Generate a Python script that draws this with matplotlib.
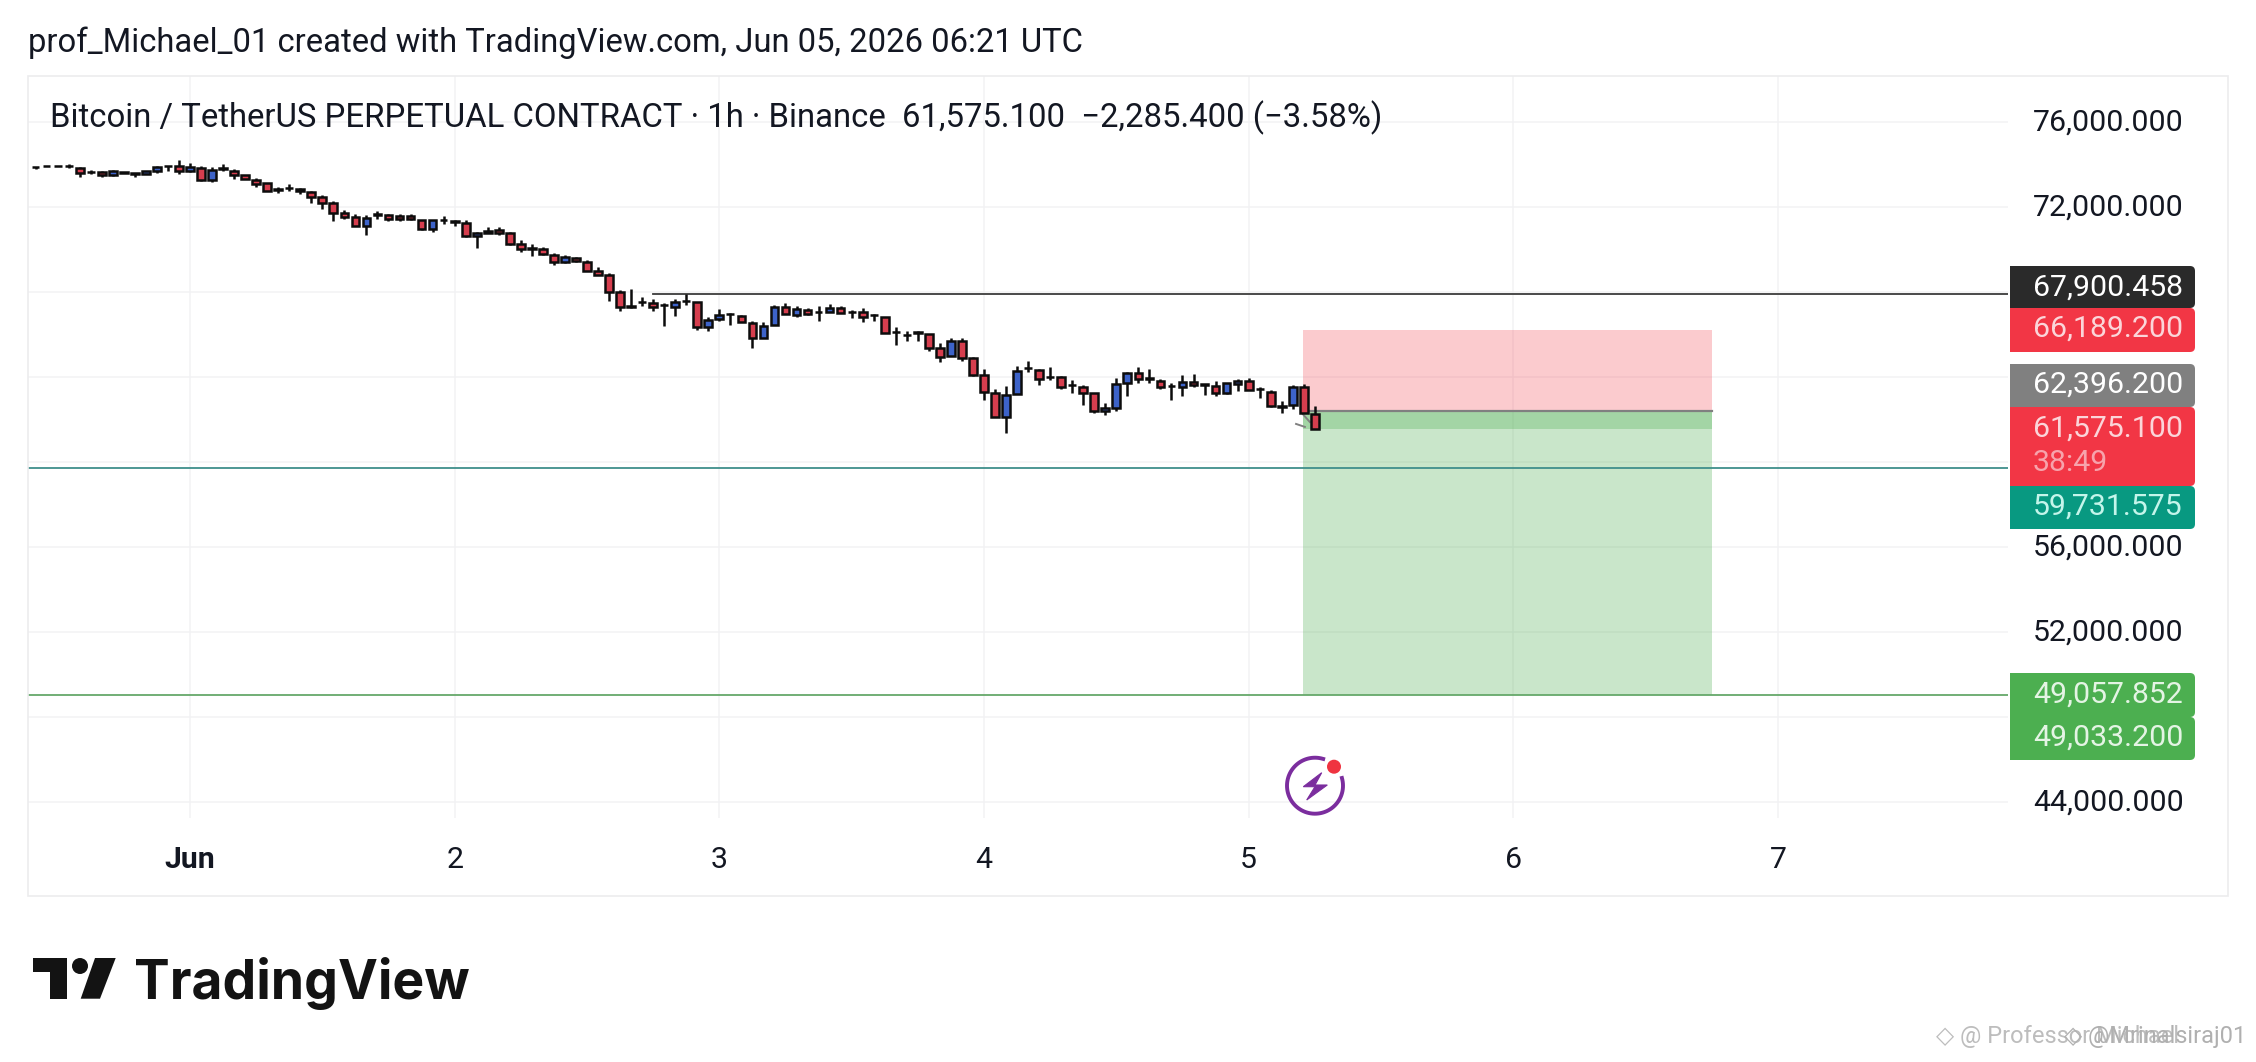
import numpy as np
import matplotlib
matplotlib.use('Agg')
import matplotlib.pyplot as plt
import matplotlib.patches as patches
from matplotlib.transforms import ScaledTranslation

plt.rcParams['font.family'] = ['Roboto', 'DejaVu Sans']

# hourly candles, first one is May 31 10:00, hours counted from Jun 1 00:00
first_hour = -14
opens = [73890, 73930, 73930, 73930, 73840, 73650, 73620, 73480, 73640, 73600, 73530, 73700, 73930, 73900,
         73680, 73820, 73240, 73800, 73700, 73480, 73280, 73100, 72830, 72900, 72850, 72710, 72450, 72160,
         71690, 71540, 71100, 71640, 71600, 71550, 71570, 71380, 70970, 71390, 71320, 71250, 70630, 70880,
         70910, 70750, 70250, 70040, 70030, 69750, 69410, 69610, 69410, 68970, 68780, 68000, 67340, 67520,
         67460, 67390, 67280, 67590, 67510, 66340, 66710, 66960, 66880, 66550, 65820, 66430, 67280, 66930,
         67170, 67060, 67040, 67230, 67070, 67040, 66900, 66840, 66100, 65980, 66090, 66010, 65380, 64990,
         65710, 64880, 64110, 63260, 62100, 63200, 64420, 64330, 63990, 63980, 63630, 63550, 63230, 62390,
         62530, 63700, 64170, 63930, 63830, 63590, 63520, 63780, 63650, 63580, 63230, 63670, 63830, 63430,
         63310, 62610, 62700, 63550, 62260]
highs = [73890, 73940, 73940, 74030, 73850, 73730, 73700, 73730, 73640, 73610, 73700, 73930, 73940, 74200,
         74040, 73900, 73860, 74010, 73790, 73480, 73330, 73130, 72920, 73070, 72860, 72720, 72570, 72260,
         71850, 71660, 71600, 71820, 71660, 71660, 71660, 71390, 71400, 71570, 71380, 71380, 70800, 71040,
         71040, 70830, 70440, 70250, 70130, 69810, 69720, 69620, 69500, 69160, 68870, 68090, 68120, 67780,
         67650, 67460, 67680, 67900, 67520, 66800, 67180, 67020, 66890, 66650, 66590, 67380, 67460, 67340,
         67230, 67340, 67420, 67340, 67150, 67230, 66960, 66840, 66370, 66180, 66180, 66020, 65610, 65830,
         65820, 64960, 64390, 63450, 63580, 64520, 64740, 64350, 64460, 64050, 63860, 63610, 63260, 62790,
         63950, 64240, 64460, 64360, 63890, 63730, 64080, 64140, 63660, 63830, 63720, 63920, 63950, 63550,
         63390, 62890, 63610, 63670, 62640]
lows = [73760, 73920, 73920, 73810, 73420, 73540, 73390, 73450, 73570, 73420, 73530, 73600, 73670, 73540,
        73650, 73230, 73180, 73670, 73320, 73290, 72950, 72730, 72630, 72760, 72600, 72190, 71880, 71350,
        71410, 71100, 70690, 71440, 71350, 71350, 71380, 70910, 70820, 71190, 71100, 70600, 70060, 70780,
        70660, 70220, 69880, 69690, 69720, 69280, 69340, 69390, 68970, 68800, 67590, 67090, 67230, 67350,
        67120, 66400, 66870, 67380, 66210, 66160, 66620, 66440, 66580, 65360, 65820, 66430, 66960, 66840,
        66900, 66650, 67040, 66990, 66770, 66600, 66650, 66050, 65520, 65690, 65710, 65240, 64700, 64990,
        64770, 64050, 62920, 62100, 61380, 63200, 64240, 63640, 63860, 63450, 63230, 62700, 62290, 62200,
        62390, 63080, 63730, 63700, 63450, 62920, 63110, 63550, 63170, 63080, 63200, 63360, 63380, 63010,
        62590, 62320, 62480, 62310, 61540]
closes = [73870, 73930, 73930, 73920, 73570, 73640, 73480, 73670, 73570, 73560, 73700, 73860, 73920, 73680,
          73890, 73240, 73730, 73790, 73500, 73290, 73090, 72760, 72810, 72890, 72740, 72480, 72200, 71690,
          71540, 71100, 71470, 71620, 71410, 71440, 71410, 70970, 71380, 71370, 71300, 70630, 70780, 70790,
          70750, 70240, 70030, 70020, 69780, 69410, 69630, 69450, 69000, 68800, 68000, 67280, 67280, 67500,
          67310, 67380, 67540, 67580, 66340, 66680, 66900, 66950, 66590, 65820, 66410, 67280, 66960, 67210,
          66960, 67050, 67240, 67020, 67060, 66840, 66890, 66050, 66090, 65970, 66080, 65380, 64960, 65710,
          64880, 64110, 63300, 62100, 63170, 64300, 64400, 63890, 63980, 63550, 63620, 63260, 62390, 62540,
          63670, 64170, 63890, 63910, 63520, 63570, 63780, 63610, 63630, 63230, 63700, 63830, 63390, 63410,
          62610, 62600, 63550, 62310, 61575]

day_hours = [0, 24, 48, 72, 96, 120, 144]
day_labels = ['Jun', '2', '3', '4', '5', '6', '7']
grid_prices = [76000, 72000, 68000, 64000, 60000, 56000, 52000, 48000, 44000]
shown_prices = [76000, 72000, 56000, 52000, 44000]

resistance = 67900.458
support = 59731.575
lower_line = 49057.852
stop_price = 66189.2
entry_price = 62396.2
last_price = 61575.1
target_price = 49033.2
position_hours = [100.9, 138]
connector_hours = [100.3, 101.1]
connector_prices = [61790, 61650]
connector2_hours = [100.9, 101.55]
connector2_prices = [62260, 61880]

# label text, fill, text colour, top and bottom of the box in pixels, text centre
price_tags = [('67,900.458', '#2a2a2a', '#ffffff', 266, 308, 287.5),
              ('66,189.200', '#f23645', '#fbd5d9', 308, 352, 329),
              ('62,396.200', '#808080', '#ffffff', 364, 407, 384.5),
              ('61,575.100', '#f23645', '#fbd5d9', 407, 486, 428.5),
              ('59,731.575', '#089981', '#c4f5ea', 486, 529, 506.5),
              ('49,057.852', '#4caf50', '#e4f4e4', 673, 717, 694.5),
              ('49,033.200', '#4caf50', '#e4f4e4', 717, 760, 737.5)]

WIDTH, HEIGHT = 2256, 1062
fig = plt.figure(figsize=(WIDTH / 100, HEIGHT / 100), dpi=100, facecolor='white')

# main pane goes from 28 to 2008 px across and 76 to 818 px down
ax = fig.add_axes([28 / WIDTH, 1 - 818 / HEIGHT, 1980 / WIDTH, 742 / HEIGHT])
ax.set_xlim(-14.69, 164.86)
ax.set_ylim(43262, 78149)
for side in ax.spines:
    ax.spines[side].set_visible(False)

ax.set_axisbelow(True)
ax.grid(True, color='#f2f2f4', lw=1.1)
ax.set_xticks(day_hours)
ax.set_xticklabels(day_labels, fontsize=21.8, color='#131722')
ax.get_xticklabels()[0].set_fontweight('bold')
ax.set_yticks(grid_prices)
ax.set_yticklabels(['{:,.3f}'.format(p) if p in shown_prices else '' for p in grid_prices],
                   fontsize=21.8, color='#131722')
ax.yaxis.tick_right()
ax.tick_params(axis='y', length=0, pad=18)
ax.tick_params(axis='x', length=0, pad=20)
# tick labels sit a little high in the original
for lab in ax.get_yticklabels():
    lab.set_transform(lab.get_transform() + ScaledTranslation(0, 2.5 / 100, fig.dpi_scale_trans))

# long position box
ax.fill_between(position_hours, entry_price, stop_price, color='#f23645', alpha=0.26, lw=0, zorder=1)
ax.fill_between(position_hours, target_price, entry_price, color='#4caf50', alpha=0.3, lw=0, zorder=1)
ax.fill_between(position_hours, last_price, entry_price, color='#4caf50', alpha=0.3, lw=0, zorder=1.1)
ax.plot(position_hours, [entry_price, entry_price], color='#808080', lw=1.6, zorder=1.2)
ax.plot(connector_hours, connector_prices, color='#808080', lw=1.4, zorder=1.2)
ax.plot(connector2_hours, connector2_prices, color='#808080', lw=1.4, zorder=1.2)

# horizontal lines
ax.plot([42, ax.get_xlim()[1]], [resistance, resistance], color='#3c3c3c', lw=1.3, zorder=2)
ax.axhline(support, color='#3f8f8b', lw=1.3, zorder=2)
ax.axhline(lower_line, color='#66a86a', lw=1.3, zorder=2)

# candles
hours = np.arange(first_hour, first_hour + len(opens))
opens = np.array(opens)
closes = np.array(closes)
colors = ['#3d63c9' if c >= o else '#d63e4e' for o, c in zip(opens, closes)]
ax.vlines(hours, lows, highs, color='#0c0c0c', lw=1.8, zorder=3)
ax.bar(hours, np.abs(closes - opens), bottom=np.minimum(opens, closes), width=0.7,
       color=colors, edgecolor='#0c0c0c', linewidth=1.8, zorder=4)

# everything outside the pane is placed in pixels on a full figure overlay
over = fig.add_axes([0, 0, 1, 1], facecolor='none')
over.set_xlim(0, WIDTH)
over.set_ylim(HEIGHT, 0)
over.axis('off')

over.add_patch(patches.Rectangle((28, 76), 2200, 820, fill=False, edgecolor='#ececee', lw=1.2))

over.text(28, 43, 'prof_Michael_01 created with TradingView.com, Jun 05, 2026 06:21 UTC',
          fontsize=23.6, color='#131722', va='center')
over.text(50, 118, 'Bitcoin / TetherUS PERPETUAL CONTRACT · 1h · Binance  61,575.100  −2,285.400 (−3.58%)',
          fontsize=23.7, color='#131722', va='center')

for label, fill, text_color, top, bottom, center in price_tags:
    over.add_patch(patches.FancyBboxPatch((2014, top), 181, bottom - top,
                                          boxstyle='round,pad=0,rounding_size=5', fc=fill, ec='none',
                                          mutation_aspect=1))
    over.add_patch(patches.Rectangle((2010, top), 20, bottom - top, fc=fill, ec='none'))
    over.text(2033, center, label, fontsize=21.8, color=text_color, va='center')
over.text(2033, 463, '38:49', fontsize=21.8, color='#f7a3ac', va='center')

# event icon
theta = np.radians(np.linspace(73, 376, 80))
over.plot(1315 + 28 * np.cos(theta), 785.7 - 28 * np.sin(theta), color='#7b2d9e', lw=2.8)
over.add_patch(patches.Polygon([(1321.7, 772.7), (1303.3, 786.7), (1315, 786.7), (1306.7, 800),
                                (1327.3, 785), (1315, 785)], closed=True, fc='#7b2d9e', ec='#7b2d9e', lw=0.8))
over.add_patch(patches.Circle((1334, 766.7), 7, fc='#ef3340', ec='none'))

# TradingView logo
over.add_patch(patches.Polygon([(33.3, 958), (67.3, 958), (67.3, 998.7), (50, 998.7), (50, 972), (33.3, 972)],
                               closed=True, fc='#131313', ec='none'))
over.add_patch(patches.Circle((80, 966), 8, fc='#131313', ec='none'))
over.add_patch(patches.Polygon([(95, 958), (115.7, 958), (100, 998.7), (80.7, 998.7)],
                               closed=True, fc='#131313', ec='none'))
over.text(134, 998.5, 'TradingView', fontsize=38.5, family=['Inter', 'DejaVu Sans'], fontweight='bold',
          color='#131313', va='baseline')

# repost watermarks
over.text(1936, 1037, '◇ @ Professor Michael', fontsize=17, color='#bdbdbd', va='center')
over.text(2064, 1037, '◇ @Mrinalsiraj01', fontsize=17, color='#b0b0b0', va='center')

fig.savefig('out.png', dpi=100)
plt.close()
